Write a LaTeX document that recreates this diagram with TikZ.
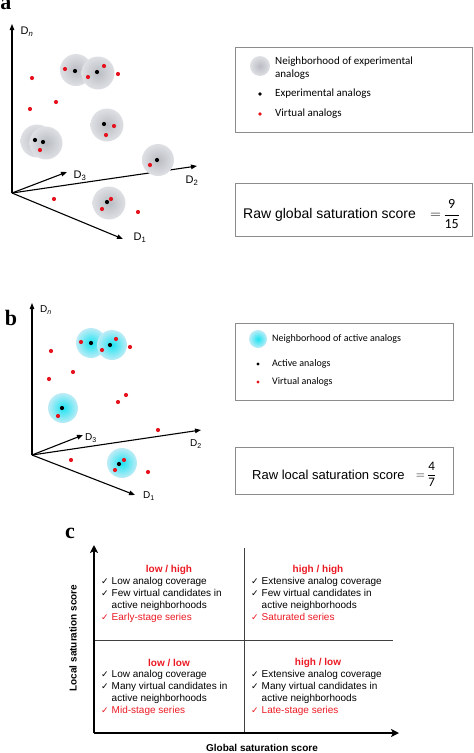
\documentclass[tikz,border=0pt]{standalone}
\usepackage{fontspec}
\setmainfont{Liberation Sans}
\newfontfamily\carl{Carlito}
\newfontfamily\djv{DejaVu Sans}
\newfontfamily\serb{Liberation Serif}
\usetikzlibrary{arrows.meta}
\definecolor{vred}{RGB}{230,20,30}
\definecolor{boxgray}{RGB}{140,140,140}
\definecolor{gin}{RGB}{185,188,194}
\definecolor{gout}{RGB}{222,224,228}
\definecolor{cin}{RGB}{30,228,242}
\definecolor{cout}{RGB}{190,236,246}
\definecolor{qred}{RGB}{235,25,35}
\newcommand{\ck}{{\djv\fontsize{9}{10}\selectfont ✓}}
\tikzset{
  axisarr/.style={line width=1.1pt,-{Triangle[length=6pt,width=4.5pt]}},
  caxis/.style={line width=1.6pt,-{Stealth[length=8pt,width=8pt,inset=2pt]}},
  divline/.style={line width=0.8pt,draw=black!75},
  dlab/.style={font=\fontsize{11}{13}\selectfont,inner sep=0pt},
  dlabb/.style={font=\fontsize{10}{12}\selectfont,inner sep=0pt},
  bdot/.style={circle,fill=black,inner sep=0pt,minimum size=4.2pt},
  rdot/.style={circle,fill=vred,inner sep=0pt,minimum size=4.2pt},
  gsph/.style={circle,inner sep=0pt,minimum size=32pt,inner color=gin,outer color=gout},
  csph/.style={circle,inner sep=0pt,minimum size=30pt,inner color=cin,outer color=cout},
  legbox/.style={draw=boxgray,line width=0.9pt,inner sep=0pt},
  panlab/.style={font=\serb\bfseries\fontsize{22}{24}\selectfont,inner sep=0pt},
  quadhead/.style={font=\bfseries\fontsize{10}{12}\selectfont,text=qred,inner sep=0pt},
  quadtxt/.style={font=\fontsize{10}{12}\selectfont,inner sep=0pt,anchor=north west},
}
\begin{document}
\begin{tikzpicture}[x=1pt,y=-1pt]
\useasboundingbox (0,0) rectangle (474,753);
% ---------------- panel a ----------------
\node[panlab] (la) at (6,4) {a};
\coordinate (ao) at (12,193);
\coordinate (an) at (12,24);
\coordinate (a3) at (67,172);
\coordinate (a2) at (197,166);
\coordinate (a1) at (123,239);
\draw[axisarr] (ao) -- (an);
\draw[axisarr] (ao) -- (a3);
\draw[axisarr] (ao) -- (a2);
\draw[axisarr] (ao) -- (a1);
\node[dlab] (lan) at (27,32) {D\textsubscript{\textit{n}}};
\node[dlab] (la3) at (80,176) {D\textsubscript{3}};
\node[dlab] (la2) at (192,181) {D\textsubscript{2}};
\node[dlab] (la1) at (140,238) {D\textsubscript{1}};
% spheres
\node[gsph] (gs1) at (76,70) {};
\node[gsph,minimum size=33pt] (gs2) at (98,73) {};
\node[gsph,minimum size=33pt] (gs3) at (107,125) {};
\node[gsph,minimum size=33pt] (gs4) at (37,141) {};
\node[gsph,minimum size=33pt] (gs5) at (46,143) {};
\node[gsph] (gs6) at (158,160) {};
\node[gsph,minimum size=33pt] (gs7) at (109,203) {};
% black dots
\node[bdot] (ab1) at (75,71) {};
\node[bdot] (ab2) at (97,72) {};
\node[bdot] (ab3) at (104,124) {};
\node[bdot] (ab4) at (35,140) {};
\node[bdot] (ab5) at (43,142) {};
\node[bdot] (ab6) at (157,160) {};
\node[bdot] (ab7) at (107,202) {};
% red dots
\node[rdot] (ar1) at (65,69) {};
\node[rdot] (ar2) at (88,77) {};
\node[rdot] (ar3) at (104,66) {};
\node[rdot] (ar4) at (118,74) {};
\node[rdot] (ar5) at (32,78) {};
\node[rdot] (ar6) at (56,102) {};
\node[rdot] (ar7) at (30,109) {};
\node[rdot] (ar8) at (114,126) {};
\node[rdot] (ar9) at (106,135) {};
\node[rdot] (ar10) at (40,150) {};
\node[rdot] (ar11) at (150,165) {};
\node[rdot] (ar12) at (54,199) {};
\node[rdot] (ar13) at (111,199) {};
\node[rdot] (ar14) at (102,209) {};
\node[rdot] (ar15) at (138,212) {};
% legend a
\node[legbox,minimum width=237pt,minimum height=85pt] (lega) at (353.5,89.5) {};
\node[gsph,minimum size=20pt] (lgs) at (260,66) {};
\node[font=\carl\fontsize{11}{12.5}\selectfont,align=left,anchor=west,inner sep=0pt] (lgt) at (275,68) {Neighborhood of experimental\\analogs};
\node[bdot,minimum size=3.6pt] (lbd) at (260,94) {};
\node[font=\carl\fontsize{11}{12.5}\selectfont,anchor=west,inner sep=0pt] (lbt) at (275,94) {Experimental analogs};
\node[rdot,minimum size=3.6pt] (lrd) at (260,114) {};
\node[font=\carl\fontsize{11}{12.5}\selectfont,anchor=west,inner sep=0pt] (lrt) at (275,114) {Virtual analogs};
% score a
\node[legbox,minimum width=237pt,minimum height=53pt] (sca) at (353.5,209.5) {};
\node[font=\fontsize{14}{16}\selectfont,anchor=west,inner sep=0pt] (scat) at (243,215) {Raw global saturation score};
\node[font=\carl\fontsize{14}{16}\selectfont,inner sep=0pt] (scaf) at (445,214) {$\mathord{=}\,\displaystyle\frac{\mbox{9}}{\mbox{15}}$};
% ---------------- panel b ----------------
\node[panlab] (lb) at (11,318) {b};
\coordinate (bo) at (32,455);
\coordinate (bn) at (32,303);
\coordinate (b3) at (83,435);
\coordinate (b2) at (201,430);
\coordinate (b1) at (135,495);
\draw[axisarr] (bo) -- (bn);
\draw[axisarr] (bo) -- (b3);
\draw[axisarr] (bo) -- (b2);
\draw[axisarr] (bo) -- (b1);
\node[dlabb] (lbn) at (46,310) {D\textsubscript{\textit{n}}};
\node[dlabb] (lb3) at (91,438) {D\textsubscript{3}};
\node[dlabb] (lb2) at (196,444) {D\textsubscript{2}};
\node[dlabb] (lb1) at (149,496) {D\textsubscript{1}};
\node[csph] (cs1) at (91,343) {};
\node[csph] (cs2) at (112,345) {};
\node[csph] (cs3) at (63,408) {};
\node[csph] (cs4) at (122,463) {};
\node[bdot] (bb1) at (91,343) {};
\node[bdot] (bb2) at (110,345) {};
\node[bdot] (bb3) at (62,408) {};
\node[bdot] (bb4) at (119,464) {};
\node[rdot] (br1) at (81,342) {};
\node[rdot] (br2) at (102,350) {};
\node[rdot] (br3) at (116,339) {};
\node[rdot] (br4) at (130,347) {};
\node[rdot] (br5) at (51,351) {};
\node[rdot] (br6) at (73,372) {};
\node[rdot] (br7) at (49,379) {};
\node[rdot] (br8) at (126,395) {};
\node[rdot] (br9) at (118,402) {};
\node[rdot] (br10) at (58,416) {};
\node[rdot] (br11) at (158,430) {};
\node[rdot] (br12) at (71,460) {};
\node[rdot] (br13) at (124,460) {};
\node[rdot] (br14) at (115,470) {};
\node[rdot] (br15) at (148,472) {};
% legend b
\node[legbox,minimum width=218pt,minimum height=77pt] (legb) at (344,361.5) {};
\node[csph,minimum size=18pt] (lcs) at (258,339) {};
\node[font=\carl\fontsize{10}{12}\selectfont,anchor=west,inner sep=0pt] (lct) at (272,339) {Neighborhood of active analogs};
\node[bdot,minimum size=3.4pt] (lbd2) at (258,364) {};
\node[font=\carl\fontsize{10}{12}\selectfont,anchor=west,inner sep=0pt] (lbt2) at (272,364) {Active analogs};
\node[rdot,minimum size=3.4pt] (lrd2) at (258,382) {};
\node[font=\carl\fontsize{10}{12}\selectfont,anchor=west,inner sep=0pt] (lrt2) at (272,382) {Virtual analogs};
% score b
\node[legbox,minimum width=218pt,minimum height=47pt] (scb) at (344,470.5) {};
\node[font=\fontsize{13}{15}\selectfont,anchor=west,inner sep=0pt] (scbt) at (252,475) {Raw local saturation score};
\node[font=\carl\fontsize{13}{15}\selectfont,inner sep=0pt] (scbf) at (426,474) {$\mathord{=}\,\displaystyle\frac{\mbox{4}}{\mbox{7}}$};
% ---------------- panel c ----------------
\node[panlab] (lc) at (70,533) {c};
\coordinate (co) at (94,733);
\coordinate (cy) at (94,545);
\coordinate (cx) at (399,733);
\coordinate (cvt) at (244,548);
\coordinate (cvb) at (244,733);
\coordinate (chl) at (94,640);
\coordinate (chr) at (393,640);
\draw[divline] (cvt) -- (cvb);
\draw[divline] (chl) -- (chr);
\draw[caxis] (co) -- (cy);
\draw[caxis] (co) -- (cx);
\node[font=\bfseries\fontsize{10}{12}\selectfont,rotate=90,inner sep=0pt] (cyl) at (73,638) {Local saturation score};
\node[font=\bfseries\fontsize{10}{12}\selectfont,inner sep=0pt] (cxl) at (262,748) {Global saturation score};
% quadrants
\node[quadhead] (q1h) at (169,570) {low / high};
\node[quadtxt] (q1t) at (101,576) {\begin{tabular}{@{}l@{\hspace{3pt}}l@{}}\ck & Low analog coverage\\ \ck & Few virtual candidates in\\ & active neighborhoods\\ \color{qred}\ck & \color{qred}Early-stage series\end{tabular}};
\node[quadhead] (q2h) at (318,570) {high / high};
\node[quadtxt] (q2t) at (251,576) {\begin{tabular}{@{}l@{\hspace{3pt}}l@{}}\ck & Extensive analog coverage\\ \ck & Few virtual candidates in\\ & active neighborhoods\\ \color{qred}\ck & \color{qred}Saturated series\end{tabular}};
\node[quadhead] (q3h) at (169,663) {low / low};
\node[quadtxt] (q3t) at (101,669) {\begin{tabular}{@{}l@{\hspace{3pt}}l@{}}\ck & Low analog coverage\\ \ck & Many virtual candidates in\\ & active neighborhoods\\ \color{qred}\ck & \color{qred}Mid-stage series\end{tabular}};
\node[quadhead] (q4h) at (318,663) {high / low};
\node[quadtxt] (q4t) at (251,669) {\begin{tabular}{@{}l@{\hspace{3pt}}l@{}}\ck & Extensive analog coverage\\ \ck & Many virtual candidates in\\ & active neighborhoods\\ \color{qred}\ck & \color{qred}Late-stage series\end{tabular}};
\end{tikzpicture}
\end{document}
